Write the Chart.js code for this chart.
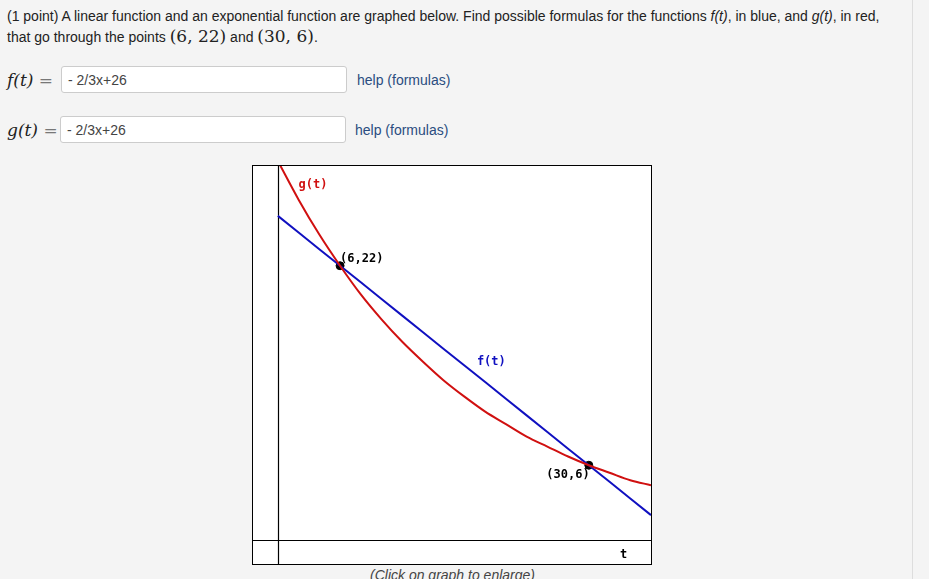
<!DOCTYPE html>
<html><head><meta charset="utf-8">
<script src="https://cdn.jsdelivr.net/npm/chart.js@4"></script>
<style>
body{margin:0;background:#f4f4f4;font-family:"Liberation Sans",Arial,sans-serif;font-size:14px;color:#222;width:929px;height:579px;overflow:hidden;position:relative}
.page{position:absolute;left:0;top:0;width:912px;height:579px;border-right:1px solid #ddd}
.p{position:absolute;left:7px;top:6px;line-height:20px;width:898px}
.m{font-family:"DejaVu Serif",serif;font-size:17px}
.lab{position:absolute;left:7px;font-family:"DejaVu Serif",serif;font-size:17px;font-style:italic}
.in{position:absolute;background:#fff;border:1px solid #ccc;border-radius:3px;height:27px;line-height:27px;padding-left:6px;box-sizing:border-box;color:#444}
.help{position:absolute;color:#2a4d80}
#box{position:absolute;left:252px;top:165px;width:400px;height:400px;background:#fff;border:1px solid #000;box-sizing:border-box}
.cap{position:absolute;left:370px;top:567px;font-style:italic;color:#444}
</style></head><body><div class="page">
<div class="p">(1 point) A linear function and an exponential function are graphed below. Find possible formulas for the functions <i>f(t)</i>, in blue, and <i>g(t)</i>, in red,<br>that go through the points <span class="m">(6, 22)</span> and <span class="m">(30, 6)</span>.</div>
<div class="lab" style="top:70px">f(t) <span style="font-style:normal;color:#777">=</span></div>
<div class="in" style="left:61px;top:66px;width:286px">- 2/3x+26</div>
<div class="help" style="left:357px;top:72px">help (formulas)</div>
<div class="lab" style="top:120px">g(t) <span style="font-style:normal;color:#777">=</span></div>
<div class="in" style="left:60px;top:116px;width:286px">- 2/3x+26</div>
<div class="help" style="left:355px;top:122px">help (formulas)</div>
<div id="box"><canvas id="c" width="398" height="398"></canvas></div>
<div class="cap">(Click on graph to enlarge)</div>
</div>
<script>
const tValues=[0,2,4,6,8,10,12,14,16,18,20,22,24,26,28,30,32,34,36];
const fValues=[26,24.67,23.33,22,20.67,19.33,18,16.67,15.33,14,12.67,11.33,10,8.67,7.33,6,4.67,3.33,2];
const gValues=[30.4,27.3,24.5,22,19.7,17.7,15.9,14.3,12.8,11.5,10.3,9.3,8.3,7.5,6.7,6,5.4,4.8,4.4];
const pointsX=[6,30];
const pointsY=[22,6];
const pointLabels=["(6,22)","(30,6)"];
const xMin=-2.4,xMax=36,yMin=-1.92,yMax=30;
const mk=(ys)=>tValues.map((t,i)=>({x:t,y:ys[i]}));
const deco={id:'deco',
 beforeDatasetsDraw(c){const x=c.scales.x,y=c.scales.y,g=c.ctx;g.save();g.strokeStyle='#000';g.lineWidth=1.2;
  const x0=Math.round(x.getPixelForValue(0))+0.5,y0=Math.round(y.getPixelForValue(0))+0.5;
  g.beginPath();g.moveTo(x0,0);g.lineTo(x0,c.height);g.moveTo(0,y0);g.lineTo(c.width,y0);g.stroke();g.restore();},
 afterDatasetsDraw(c){const x=c.scales.x,y=c.scales.y,g=c.ctx;g.save();g.font='bold 12px "DejaVu Sans Mono",monospace';
  g.fillStyle='#d01010';g.fillText('g(t)',x.getPixelForValue(2),y.getPixelForValue(28.2));
  g.fillStyle='#1010c0';g.fillText('f(t)',x.getPixelForValue(19.2),y.getPixelForValue(14));
  g.fillStyle='#000';
  g.fillText(pointLabels[0],x.getPixelForValue(6),y.getPixelForValue(22.3));
  g.fillText(pointLabels[1],x.getPixelForValue(25.9),y.getPixelForValue(5));
  g.fillText('t',x.getPixelForValue(33),y.getPixelForValue(-1.4));
  g.restore();}};
new Chart(document.getElementById('c'),{type:'scatter',
 data:{datasets:[
  {data:mk(gValues),showLine:true,borderColor:'#d01010',borderWidth:2,pointRadius:0,cubicInterpolationMode:'monotone'},
  {data:mk(fValues),showLine:true,borderColor:'#1010c0',borderWidth:2,pointRadius:0},
  {data:pointsX.map((v,i)=>({x:v,y:pointsY[i]})),pointRadius:4,backgroundColor:'#000',borderColor:'#000'}]},
 options:{responsive:false,animation:false,events:[],layout:{padding:0,autoPadding:false},
  plugins:{legend:{display:false},tooltip:{enabled:false}},
  scales:{x:{type:'linear',min:xMin,max:xMax,display:false},y:{type:'linear',min:yMin,max:yMax,display:false}}},
 plugins:[deco]});
</script></body></html>
